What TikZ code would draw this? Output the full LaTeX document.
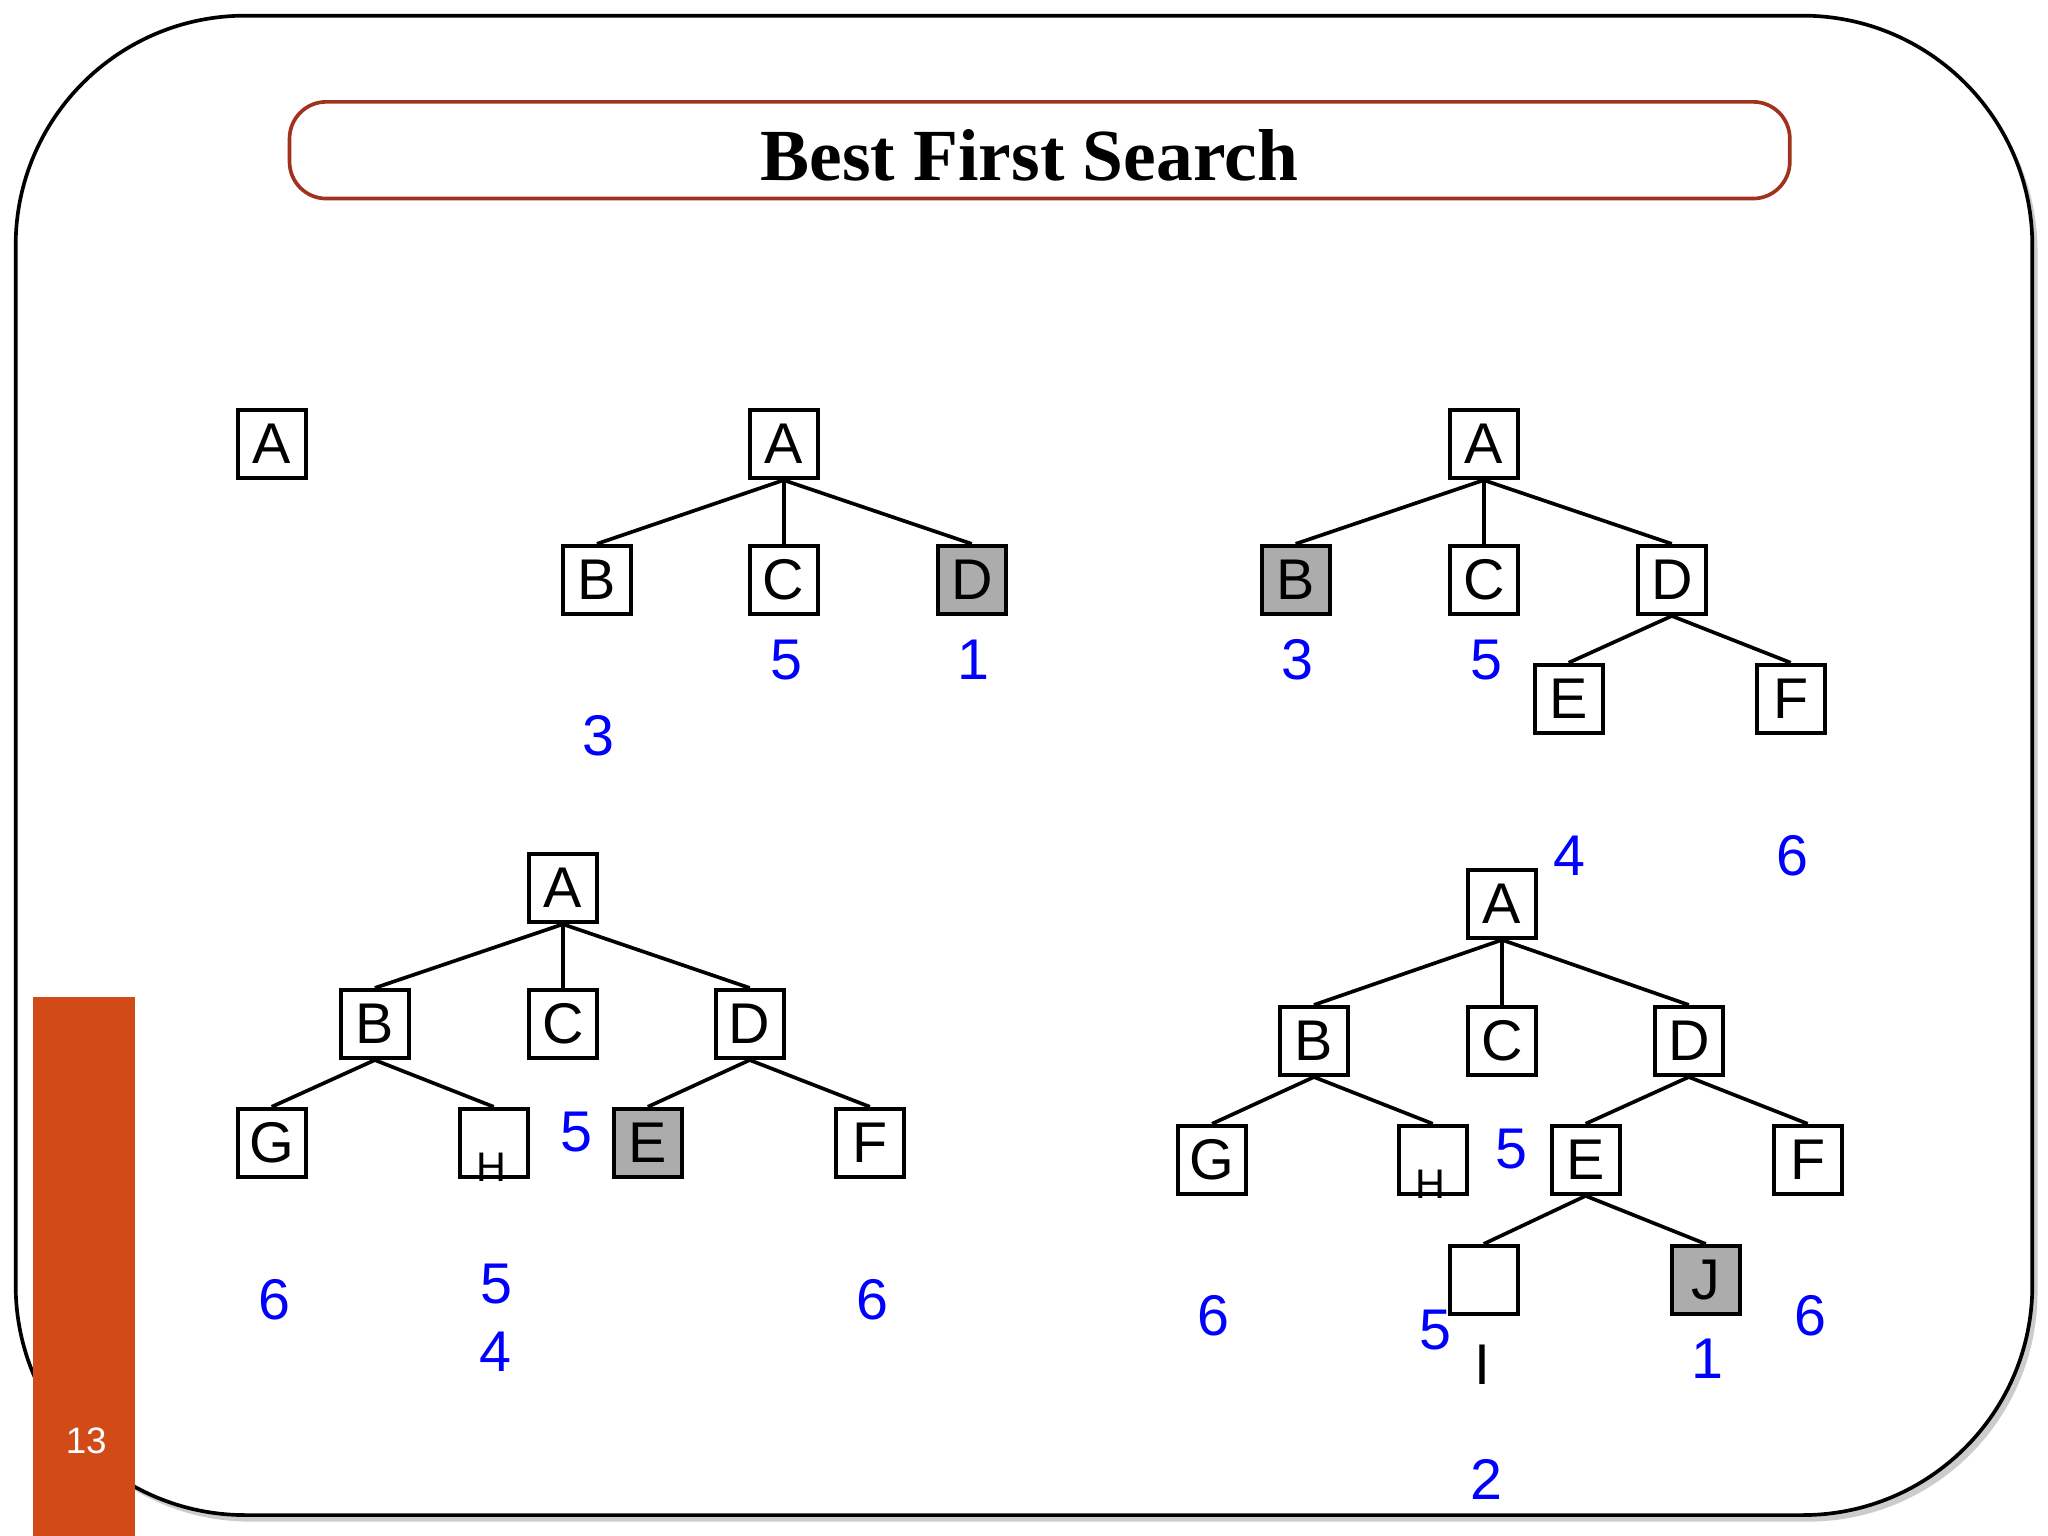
\documentclass[tikz,border=0pt]{standalone}
\usepackage{fontspec}
\setmainfont{Liberation Sans}
\newfontfamily\titlefont{Liberation Serif}
\begin{document}
\begin{tikzpicture}[x=0.01cm,y=-0.01cm,
 bx/.style={draw,line width=0.9pt,minimum size=0.52cm,inner sep=0pt,font=\fontsize{12.5}{13}\selectfont},
 gbx/.style={bx,fill=gray!65},
 num/.style={text=blue,font=\fontsize{12.5}{13}\selectfont,inner sep=0pt},
 sm/.style={font=\fontsize{9}{10}\selectfont,inner sep=0pt},
 ed/.style={line width=0.8pt}]
\useasboundingbox (0,0) rectangle (1568,1176);
\fill[white] (0,0) rectangle (1568,1176);
\fill[gray!40] (16,17) [rounded corners=50] rectangle (1560,1165);
\draw[line width=0.8pt,fill=white,rounded corners=50] (12,12) rectangle (1556,1160);
\fill[fill={rgb,255:red,210;green,74;blue,24}] (25,763) rectangle (103,1176);
\node[text=white,font=\fontsize{8}{9}\selectfont] (pg) at (66,1103) {13};
\node[draw={rgb,255:red,160;green,50;blue,30},line width=0.8pt,rounded corners=8,minimum width=11.48cm,minimum height=0.74cm] (tb) at (796,115) {};
\node[font=\titlefont\bfseries\fontsize{16}{18}\selectfont] (title) at (788,119) {Best First Search};
% tree 1
\node[bx] (a1) at (208,340) {A};
% tree 2
\node[bx] (a2) at (600,340) {A};
\node[bx] (b2) at (457,444) {B};
\node[bx] (c2) at (600,444) {C};
\node[gbx] (d2) at (744,444) {D};
\foreach \c in {b2,c2,d2} \draw[ed] (a2.south) -- (\c.north);
\node[num] (n21) at (602,505) {5};
\node[num] (n22) at (745,505) {1};
\node[num] (n23) at (458,563) {3};
% tree 3
\node[bx] (a3) at (1136,340) {A};
\node[gbx] (b3) at (992,444) {B};
\node[bx] (c3) at (1136,444) {C};
\node[bx] (d3) at (1280,444) {D};
\node[bx] (e3) at (1201,535) {E};
\node[bx] (f3) at (1371,535) {F};
\foreach \c in {b3,c3,d3} \draw[ed] (a3.south) -- (\c.north);
\foreach \c in {e3,f3} \draw[ed] (d3.south) -- (\c.north);
\node[num] (n31) at (993,505) {3};
\node[num] (n32) at (1138,505) {5};
\node[num] (n33) at (1202,655) {4};
\node[num] (n34) at (1372,655) {6};
% tree 4
\node[bx] (a4) at (431,680) {A};
\node[bx] (b4) at (287,784) {B};
\node[bx] (c4) at (431,784) {C};
\node[bx] (d4) at (574,784) {D};
\node[bx] (g4) at (208,875) {G};
\node[bx] (h4) at (378,875) {};
\node[sm] (hl4) at (376,894) {H};
\node[gbx] (e4) at (496,875) {E};
\node[bx] (f4) at (666,875) {F};
\foreach \c in {b4,c4,d4} \draw[ed] (a4.south) -- (\c.north);
\foreach \c in {g4,h4} \draw[ed] (b4.south) -- (\c.north);
\foreach \c in {e4,f4} \draw[ed] (d4.south) -- (\c.north);
\node[num] (n41) at (441,867) {5};
\node[num] (n42) at (210,995) {6};
\node[num] (n43) at (380,983) {5};
\node[num] (n44) at (379,1035) {4};
\node[num] (n45) at (668,995) {6};
% tree 5
\node[bx] (a5) at (1150,692) {A};
\node[bx] (b5) at (1006,797) {B};
\node[bx] (c5) at (1150,797) {C};
\node[bx] (d5) at (1293,797) {D};
\node[bx] (g5) at (928,888) {G};
\node[bx] (h5) at (1097,888) {};
\node[sm] (hl5) at (1095,907) {H};
\node[bx] (e5) at (1214,888) {E};
\node[bx] (f5) at (1384,888) {F};
\node[bx] (i5) at (1136,980) {};
\node[gbx] (j5) at (1306,980) {J};
\node[font=\fontsize{12.5}{13}\selectfont,inner sep=0pt] (il5) at (1135,1045) {I};
\foreach \c in {b5,c5,d5} \draw[ed] (a5.south) -- (\c.north);
\foreach \c in {g5,h5} \draw[ed] (b5.south) -- (\c.north);
\foreach \c in {e5,f5} \draw[ed] (d5.south) -- (\c.north);
\foreach \c in {i5,j5} \draw[ed] (e5.south) -- (\c.north);
\node[num] (n51) at (1157,880) {5};
\node[num] (n52) at (929,1007) {6};
\node[num] (n53) at (1099,1018) {5};
\node[num] (n54) at (1307,1040) {1};
\node[num] (n55) at (1386,1007) {6};
\node[num] (n56) at (1138,1133) {2};
\end{tikzpicture}
\end{document}
